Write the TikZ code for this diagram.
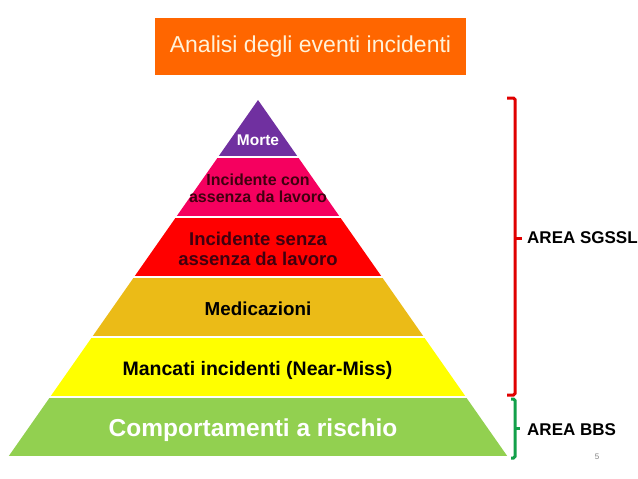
\documentclass[tikz,border=0pt]{standalone}
\usepackage{fontspec}
\setmainfont{Liberation Sans}
\definecolor{titleorange}{HTML}{FF6600}
\definecolor{titletext}{HTML}{FFF2D9}
\definecolor{cmorte}{HTML}{7030A0}
\definecolor{cpink}{HTML}{F5005F}
\definecolor{cred}{HTML}{FF0000}
\definecolor{cgold}{HTML}{EBBB17}
\definecolor{cyellow}{HTML}{FFFF00}
\definecolor{cgreen}{HTML}{92D050}
\definecolor{darkmaroon}{HTML}{40000F}
\definecolor{brred}{HTML}{E00000}
\definecolor{brgreen}{HTML}{12A04A}
\newcommand\pyrband[3]{%
  \fill[#3] ({258-0.7*(#1+1.2-100)},{#1+1.2}) -- ({258+0.7*(#1+1.2-100)},{#1+1.2})
    -- ({258+0.7*(#2-1.2-100)},{#2-1.2}) -- ({258-0.7*(#2-1.2-100)},{#2-1.2}) -- cycle;}
\tikzset{
  bandtext/.style={font=\bfseries, align=center, inner sep=0pt},
  arealabel/.style={font=\bfseries\fontsize{17}{19}\selectfont, anchor=west, inner sep=0pt},
  bracketline/.style={line width=3pt, rounded corners=1.5pt}
}
\begin{document}
\begin{tikzpicture}[x=1pt,y=-1pt]
\useasboundingbox (0,0) rectangle (638,479);
% title
\node[fill=titleorange, minimum width=311pt, minimum height=57pt, inner sep=0pt,
      text=titletext, font=\fontsize{23}{26}\selectfont] (title) at (310.5,46.5)
      {Analisi degli eventi incidenti};
% pyramid
\pyrband{98.8}{157}{cmorte}
\pyrband{157}{217}{cpink}
\pyrband{217}{277}{cred}
\pyrband{277}{337}{cgold}
\pyrband{337}{397}{cyellow}
\pyrband{397}{457}{cgreen}
% band texts
\node[bandtext, text=white, font=\bfseries\fontsize{15.5}{17}\selectfont] (morte) at (258,140) {Morte};
\node[bandtext, text=darkmaroon, font=\bfseries\fontsize{16}{17}\selectfont] (inccon) at (258,188.5) {Incidente con\\assenza da lavoro};
\node[bandtext, text=darkmaroon, font=\bfseries\fontsize{18.5}{20.5}\selectfont] (incsenza) at (258,249) {Incidente senza\\assenza da lavoro};
\node[bandtext, text=black, font=\bfseries\fontsize{18.8}{21}\selectfont] (medic) at (258,309) {Medicazioni};
\node[bandtext, text=black, font=\bfseries\fontsize{19.5}{22}\selectfont] (mancati) at (257.5,370) {Mancati incidenti (Near-Miss)};
\node[bandtext, text=white, font=\bfseries\fontsize{24.5}{28}\selectfont] (comport) at (253,430) {Comportamenti a rischio};
% brackets
\draw[brred, bracketline] (507,98) -- (515,98) -- (515,395) -- (507,395);
\draw[brred, line width=3pt] (515,238) -- (522,238);
\draw[brgreen, bracketline] (511,399) -- (515,399) -- (515,458) -- (511,458);
\draw[brgreen, line width=3pt] (515,428) -- (520,428);
% area labels
\node[arealabel] (sgssl) at (527,238) {AREA SGSSL};
\node[arealabel] (bbs) at (527,430) {AREA BBS};
% page number
\node[text=gray, font=\fontsize{8}{9}\selectfont, inner sep=0pt] (pagenum) at (597,457) {5};
\end{tikzpicture}
\end{document}
